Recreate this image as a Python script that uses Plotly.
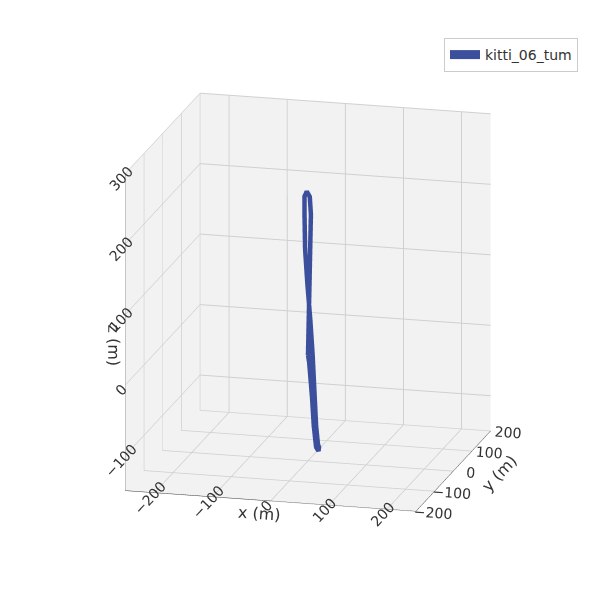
import plotly.graph_objects as go

# trajectory waypoints (m)
traj_x = [0, 1, 2, 3, 4, 5, 3, -2, -6, -6, -5, -1, 4, 8, 11, 14, 17, 19, 18, 14, 10, 7, 4, 2, 0]
traj_y = [0, 0, 0, 0, 0, 0, 0, 0, 0, 0, 0, 0, 0, 0, 0, 0, 0, 0, 0, 0, 0, 0, 0, 0, 0]
traj_z = [0, 40, 80, 120, 160, 200, 225, 232, 225, 200, 150, 100, 50, 0, -50, -100, -125, -130, -135, -130, -100, -60, -30, -10, 0]

axis_common = dict(backgroundcolor="#f2f2f2", gridcolor="#d0d0d0", showbackground=True,
                   zeroline=False, tickfont=dict(size=13, color="#333"), showspikes=False,
                   showline=True, linecolor="#333")

fig = go.Figure(go.Scatter3d(x=traj_x, y=traj_y, z=traj_z, mode="lines",
                             line=dict(color="#3b4f9c", width=9), name="kitti_06_tum",
                             showlegend=True))
fig.update_layout(
    width=600, height=600, paper_bgcolor="white",
    margin=dict(l=0, r=0, t=0, b=0),
    font=dict(family="DejaVu Sans", size=13, color="#333"),
    legend=dict(x=0.95, y=0.95, xanchor="right", yanchor="top",
                bordercolor="#ccc", borderwidth=1, font=dict(size=14)),
    scene=dict(
        xaxis=dict(title="x (m)", range=[-250, 250], tickvals=[-200, -100, 0, 100, 200], **axis_common),
        yaxis=dict(title="y (m)", range=[-200, 200], tickvals=[-200, -100, 0, 100, 200], **axis_common),
        zaxis=dict(title="z (m)", range=[-150, 300], tickvals=[-100, 0, 100, 200, 300], **axis_common),
        aspectmode="manual", aspectratio=dict(x=1, y=1, z=1.1),
        camera=dict(eye=dict(x=0.45, y=-1.75, z=0.5), center=dict(x=0, y=0, z=-0.02),
                    projection=dict(type="orthographic")),
    ),
)
fig.write_html("out.html")
